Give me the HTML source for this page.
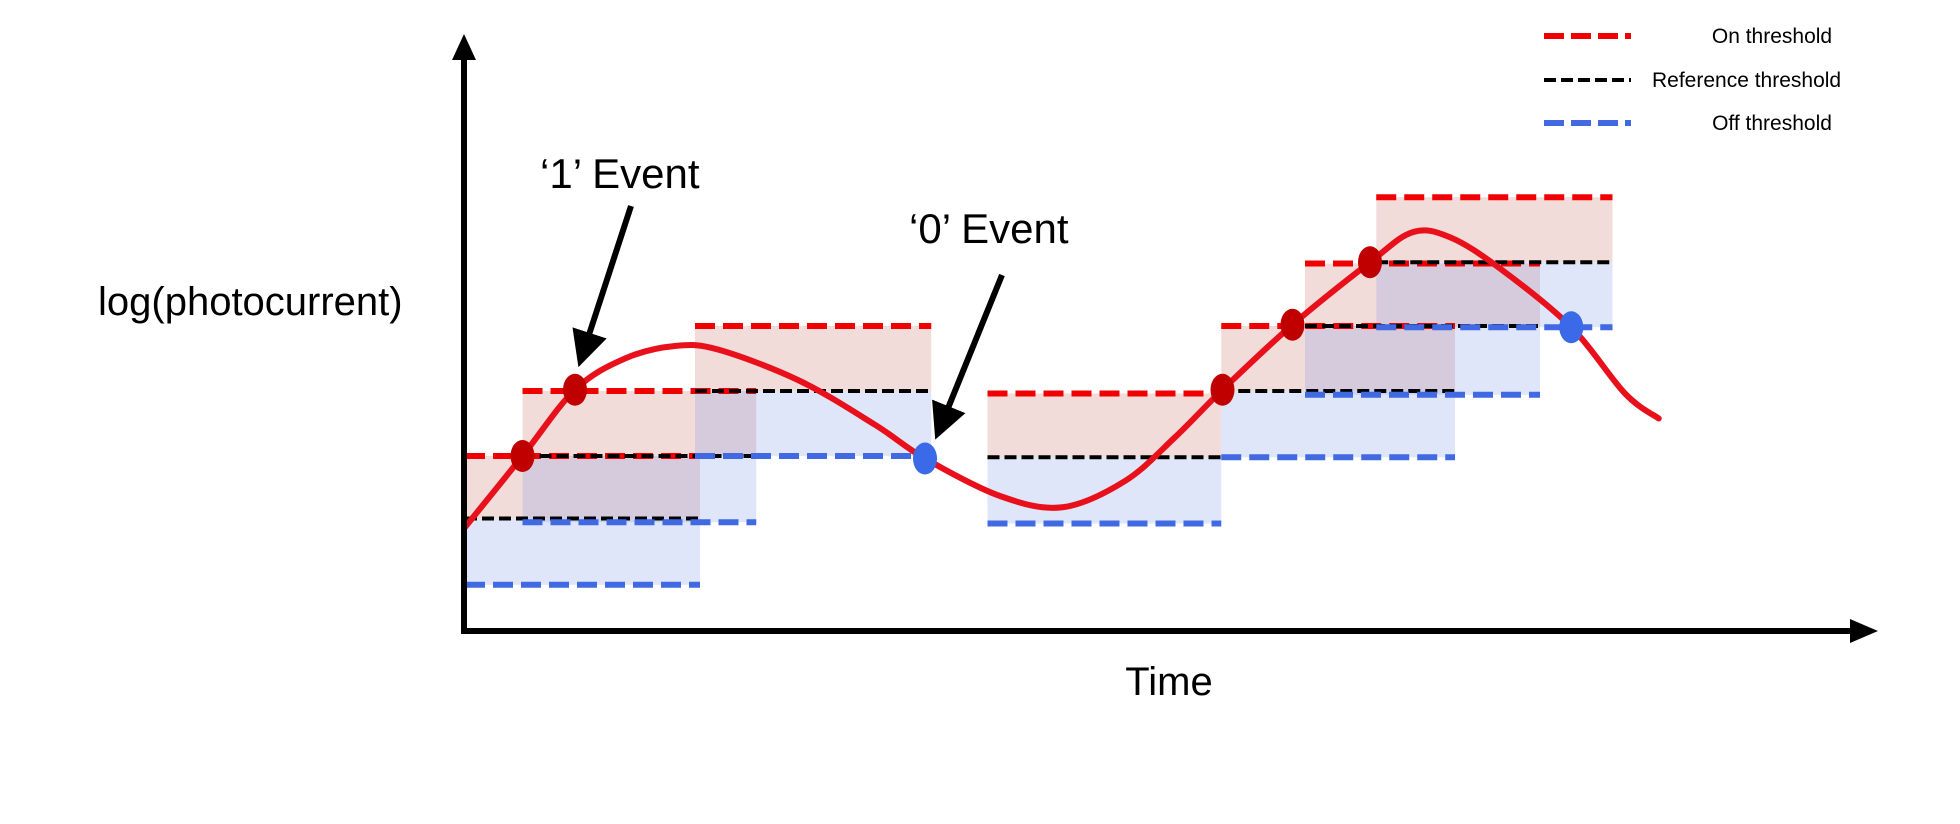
<!DOCTYPE html>
<html><head><meta charset="utf-8"><style>
html,body{margin:0;padding:0;background:#fff;}
svg{display:block;font-family:"Liberation Sans",sans-serif;}
</style></head><body>
<svg id="chart" width="1960" height="824" viewBox="0 0 1960 824">
<defs>
<marker id="ah" markerWidth="6" markerHeight="6" refX="3" refY="3" orient="auto" markerUnits="strokeWidth"><path d="M0,0 L6,3 L0,6 z" fill="#000"/></marker>
</defs>
<g id="blocks"></g>
<g id="curve-g"></g>
<g id="dots"></g>
<line x1="464" y1="633" x2="464" y2="50" stroke="#000" stroke-width="6"/>
<polygon points="464,34 452,60 476,60" fill="#000"/>
<line x1="461" y1="631" x2="1852" y2="631" stroke="#000" stroke-width="6"/>
<polygon points="1878,631 1850,619 1850,643" fill="#000"/>
<text x="98" y="315" font-size="40" fill="#000">log(photocurrent)</text>
<text x="1169" y="695" font-size="40" fill="#000" text-anchor="middle">Time</text>
<text x="540" y="188" font-size="42" fill="#000">‘1’ Event</text>
<text x="909" y="243" font-size="42" fill="#000">‘0’ Event</text>
<line x1="631" y1="206" x2="584" y2="350" stroke="#000" stroke-width="6" marker-end="url(#ah)"/>
<line x1="1002" y1="275" x2="942" y2="423" stroke="#000" stroke-width="6" marker-end="url(#ah)"/>
<g>
<line x1="1544" y1="36" x2="1631" y2="36" stroke="#f00000" stroke-width="6" stroke-dasharray="20,7"/>
<text x="1772" y="43" font-size="21" text-anchor="middle">On threshold</text>
<line x1="1544" y1="80" x2="1631" y2="80" stroke="#000" stroke-width="4" stroke-dasharray="12,5"/>
<text x="1652" y="87" font-size="21">Reference threshold</text>
<line x1="1544" y1="123" x2="1631" y2="123" stroke="#4169e1" stroke-width="6" stroke-dasharray="20,7"/>
<text x="1772" y="130" font-size="21" text-anchor="middle">Off threshold</text>
</g>
</svg>
<script>
// time in arbitrary units, level in arbitrary log units
const blockStart = [0, 46, 184, 418, 605, 672, 729];
const blockEnd   = [188, 233, 373, 605, 792, 860, 918];
const refLevel   = [90, 140, 192, 139, 192, 244, 295];
const onLevel    = [140, 192, 244, 190, 244, 294, 347];
const offLevel   = [37, 87, 140, 86, 139, 189, 243];
const curveT = [0, 46, 88, 128, 168, 203, 268, 328, 368, 428, 478, 528, 568, 606, 662, 724, 758, 788, 828, 885, 928, 955];
const curveV = [83, 140, 193, 218, 228, 225, 200, 165, 138, 108, 99, 120, 155, 193, 245, 295, 319, 315, 290, 243, 190, 170];
const onEventT = [46, 88, 606, 662, 724];
const onEventV = [140, 193, 193, 245, 295];
const offEventT = [368, 885];
const offEventV = [138, 243];

const NS = 'http://www.w3.org/2000/svg';
function xS(t){ return 465 + t * 1.25; }
function yS(v){ return 631 - v * 1.25; }
function mk(tag, attrs, parent){
  const e = document.createElementNS(NS, tag);
  for (const k in attrs) e.setAttribute(k, attrs[k]);
  parent.appendChild(e);
  return e;
}
const blocks = document.getElementById('blocks');
const fills = mk('g', {}, blocks);


const lines = mk('g', {}, blocks);


for (let i = 0; i < blockStart.length; i++) {
  const x0 = xS(blockStart[i]), x1 = xS(blockEnd[i]);
  const r = mk('rect', {x: x0, y: yS(onLevel[i]), width: x1 - x0, height: yS(refLevel[i]) - yS(onLevel[i]), fill: 'rgba(190,80,70,0.2)'}, fills);
  
  
  const b = mk('rect', {x: x0, y: yS(refLevel[i]), width: x1 - x0, height: yS(offLevel[i]) - yS(refLevel[i]), fill: 'rgba(120,150,230,0.24)'}, fills);
  
  
}
for (let i = 0; i < blockStart.length; i++) {
  const x0 = xS(blockStart[i]), x1 = xS(blockEnd[i]);
  const on = mk('line', {x1: x0, x2: x1, y1: yS(onLevel[i]), y2: yS(onLevel[i]), stroke: '#f00000', 'stroke-width': 6, 'stroke-dasharray': '20,8'}, lines);
  
  
  const rf = mk('line', {x1: x0, x2: x1, y1: yS(refLevel[i]), y2: yS(refLevel[i]), stroke: '#000', 'stroke-width': 4, 'stroke-dasharray': '12,5'}, lines);
  
  
  const of = mk('line', {x1: x0, x2: x1, y1: yS(offLevel[i]), y2: yS(offLevel[i]), stroke: '#4169e1', 'stroke-width': 6, 'stroke-dasharray': '20,8'}, lines);
  
  
}
// smooth curve (Catmull-Rom)
const pts = curveT.map((t, i) => [xS(t), yS(curveV[i])]);
let d = 'M' + pts[0][0] + ',' + pts[0][1];
for (let i = 0; i < pts.length - 1; i++) {
  const p0 = pts[Math.max(0, i - 1)], p1 = pts[i], p2 = pts[i + 1], p3 = pts[Math.min(pts.length - 1, i + 2)];
  const c1 = [p1[0] + (p2[0] - p0[0]) / 6, p1[1] + (p2[1] - p0[1]) / 6];
  const c2 = [p2[0] - (p3[0] - p1[0]) / 6, p2[1] - (p3[1] - p1[1]) / 6];
  d += ' C' + c1[0] + ',' + c1[1] + ' ' + c2[0] + ',' + c2[1] + ' ' + p2[0] + ',' + p2[1];
}
const curve = mk('path', {d: d, fill: 'none', stroke: '#e8101a', 'stroke-width': 6, 'stroke-linecap': 'round'}, document.getElementById('curve-g'));


const dots = document.getElementById('dots');
for (let i = 0; i < onEventT.length; i++) {
  const c = mk('ellipse', {cx: xS(onEventT[i]), cy: yS(onEventV[i]), rx: 12, ry: 16, fill: '#c00000'}, dots);
  
  
}
for (let i = 0; i < offEventT.length; i++) {
  const c = mk('ellipse', {cx: xS(offEventT[i]), cy: yS(offEventV[i]), rx: 12, ry: 16, fill: '#3a6ae8'}, dots);
  
  
}
</script>
</body></html>
